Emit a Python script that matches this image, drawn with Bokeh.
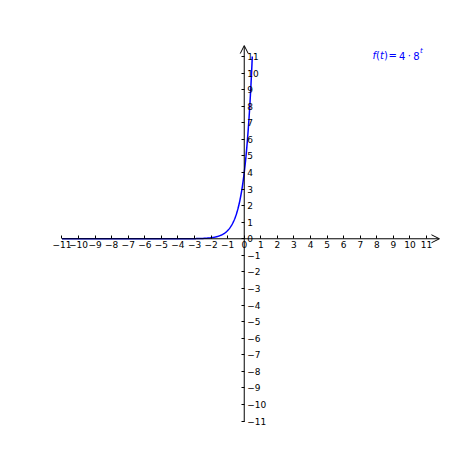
import numpy as np
from bokeh.plotting import figure
from bokeh.models import (Range1d, LinearAxis, FixedTicker, Arrow, OpenHead,
                          Label, ColumnDataSource)
from bokeh.embed import file_html
from bokeh.resources import INLINE

# ---- data ----
coef_a = 4.0          # f(t) = a * b^t
base_b = 8.0
t_start = -11.0
y_clip = 11.0
tick_values = list(range(-11, 12))
tick_labels = {v: (("\u2212%d" % -v) if v < 0 else str(v)) for v in tick_values}

t_end = np.log(y_clip / coef_a) / np.log(base_b)
t = np.linspace(t_start, t_end, 600)
f = coef_a * base_b ** t
src = ColumnDataSource(dict(t=t, f=f))

W = H = 458
p = figure(width=W, height=H, x_range=Range1d(-14.71, 12.93),
           y_range=Range1d(-13.26, 14.38), toolbar_location=None,
           output_backend="svg", min_border=0,
           x_axis_location=None, y_axis_location=None)
p.grid.visible = False
p.outline_line_color = None
p.background_fill_color = "white"
p.border_fill_color = "white"

FONT = "DejaVu Sans"

xaxis = LinearAxis(fixed_location=0, ticker=FixedTicker(ticks=tick_values),
                   major_label_overrides=tick_labels)
yaxis = LinearAxis(fixed_location=0, ticker=FixedTicker(ticks=tick_values),
                   major_label_overrides=tick_labels)
for ax in (xaxis, yaxis):
    ax.axis_line_color = None
    ax.major_tick_in = 3
    ax.major_tick_out = 0
    ax.minor_tick_line_color = None
    ax.major_tick_line_color = "black"
    ax.major_tick_line_width = 1
    ax.major_label_text_font = FONT
    ax.major_label_text_font_size = "9px"
    ax.major_label_text_color = "black"
xaxis.major_label_standoff = 2
yaxis.major_label_standoff = 3
p.add_layout(xaxis, "below")
p.add_layout(yaxis, "right")

# axis lines with arrow heads
p.add_layout(Arrow(end=OpenHead(size=8, line_width=1, line_color="black"),
                   x_start=-11, y_start=0, x_end=11.78, y_end=0,
                   line_color="black", line_width=1))
p.add_layout(Arrow(end=OpenHead(size=8, line_width=1, line_color="black"),
                   x_start=0, y_start=-11.05, x_end=0, y_end=11.66,
                   line_color="black", line_width=1))

p.line("t", "f", source=src, line_color="#0000ff", line_width=1.5)

# formula text: f(t) = 4 · 8^t
blue = "#0000ff"
base_y = H - 55
x0 = 372
pieces = [("f", "italic", 10, 0, 3.6),
          ("(", "normal", 10, 0, 3.9),
          ("t", "italic", 10, 0, 3.9),
          (")", "normal", 10, 0, 4.6),
          ("=", "normal", 10, 0, 10.6),
          ("4", "normal", 10, 0, 8.6),
          ("\u00b7", "normal", 10, 0, 5.6),
          ("8", "normal", 10, 0, 6.6),
          ("t", "italic", 7, 5, 3.0)]
cx = x0
for txt, style, size, dy, w in pieces:
    p.add_layout(Label(x=cx, y=base_y + dy, x_units="screen", y_units="screen",
                       text=txt, text_font=FONT, text_font_style=style,
                       text_font_size="%dpx" % size, text_color=blue,
                       text_baseline="alphabetic", text_align="left"))
    cx += w

open("out.html", "w").write(file_html(p, INLINE))
